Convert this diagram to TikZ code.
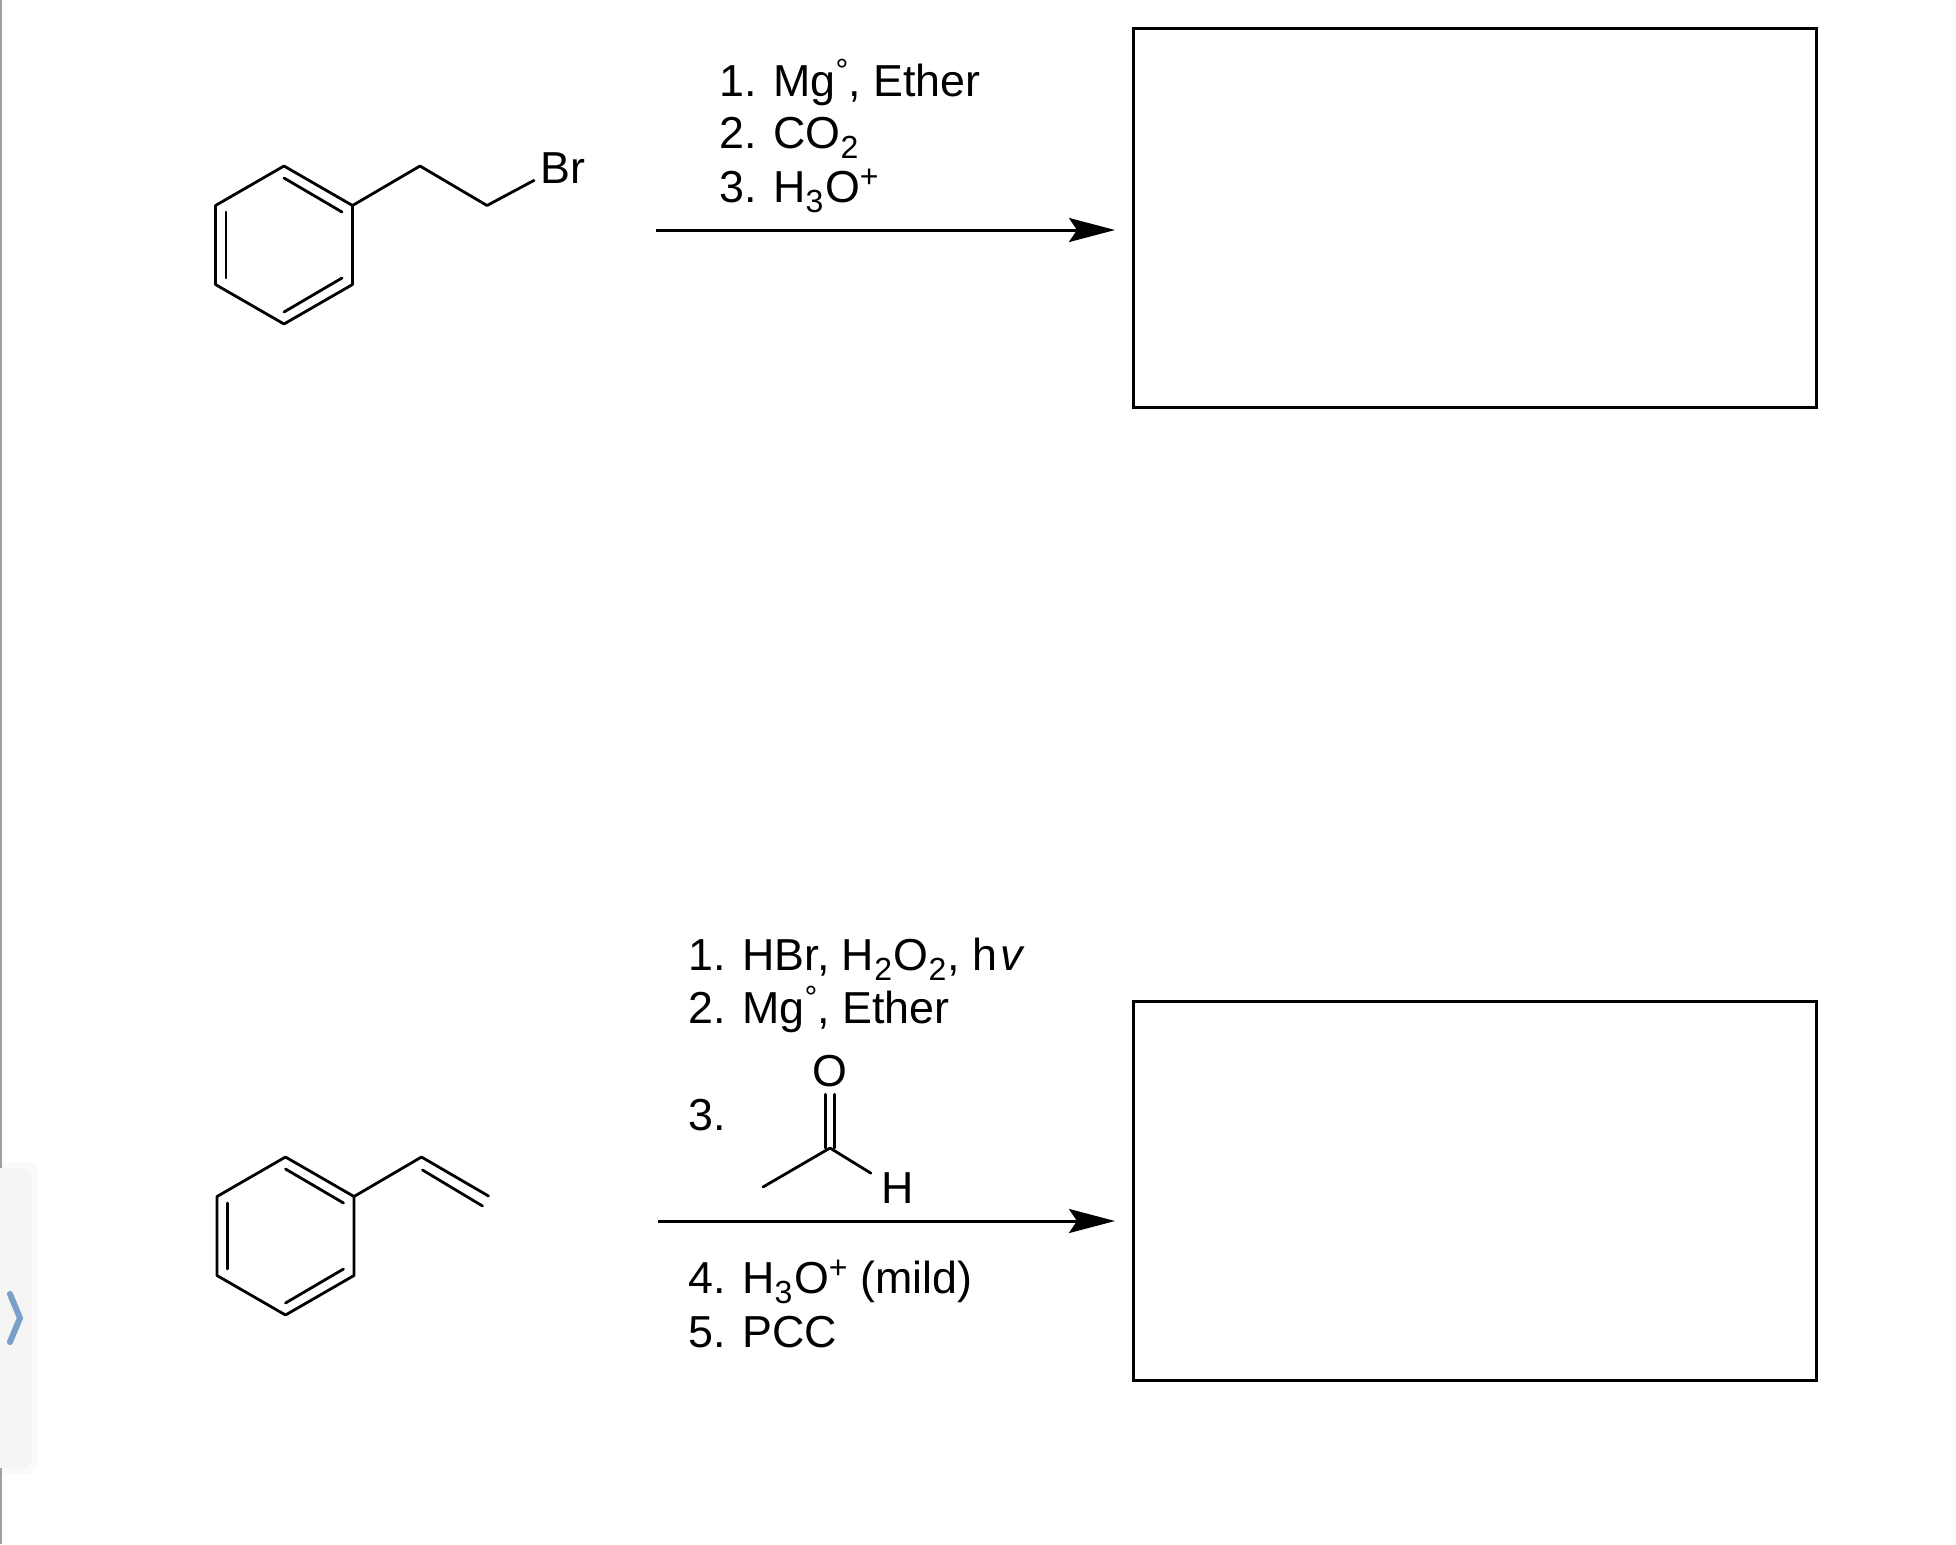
\documentclass[tikz,border=0pt]{standalone}
\usepackage{fontspec}
\setmainfont{Liberation Sans}
\usetikzlibrary{arrows.meta}

% small raised / lowered text in the reagent lines
\newcommand{\subs}[1]{\raisebox{-5pt}{\fontsize{16}{16}\selectfont #1}\hspace{0.8pt}}
\newcommand{\sups}[1]{\raisebox{7.5pt}{\fontsize{16}{16}\selectfont #1}}

\begin{document}
\begin{tikzpicture}[
    x=0.5pt,y=-0.5pt, % one unit = one pixel of the reference
    bond/.style={line width=1.4pt,line cap=round,line join=round},
    rxn/.style={line width=1.5pt,shorten >=8.5pt,-{Stealth[length=23pt,width=12pt,inset=4pt]}},
    ansbox/.style={draw,line width=1.6pt,minimum width=341.5pt,minimum height=189.5pt,anchor=north west,inner sep=0pt},
    lbl/.style={font=\fontsize{22.4}{26}\selectfont,inner sep=0pt,anchor=base west},
    atom/.style={font=\fontsize{22.4}{26}\selectfont,inner sep=0pt}
]
\useasboundingbox (0,0) rectangle (1956,1544);

% ==============================
% POSITIONS
% ==============================
\def\xA{284}    % top ring centre x
\def\yA{245}    % top ring centre y
\def\xB{285.5}  % bottom ring centre x
\def\yB{1236}   % bottom ring centre y
\def\xTop{719}  % top reagents x
\def\xBot{688}  % bottom reagents x

% ==============================
% SIDE PANEL
% ==============================
\fill[gray!4,rounded corners=6pt] (-30,1162) rectangle (38,1474);
\draw[line width=1pt,gray!75] (1,0) -- (1,1168) (1,1468) -- (1,1544);
\fill[color={rgb,255:red,245;green,245;blue,246},rounded corners=5pt] (-30,1168) rectangle (32,1468);
\coordinate (cha) at (10,1294);
\coordinate (chb) at (20,1318);
\coordinate (chc) at (10,1342);
\draw[line width=3pt,line cap=round,line join=round,color={rgb,255:red,122;green,160;blue,200}] (cha) -- (chb) -- (chc);

% ==============================
% TOP ROW
% ==============================
\coordinate (a1) at (\xA,\yA-79);
\coordinate (a2) at (\xA+68.5,\yA-39.5);
\coordinate (a3) at (\xA+68.5,\yA+39.5);
\coordinate (a4) at (\xA,\yA+79);
\coordinate (a5) at (\xA-68.5,\yA+39.5);
\coordinate (a6) at (\xA-68.5,\yA-39.5);
\draw[bond] (a1) -- (a2) -- (a3) -- (a4) -- (a5) -- (a6) -- cycle;
% inner lines of the double bonds
\draw[bond] (\xA,\yA-67) -- (\xA+58,\yA-33);
\draw[bond] (\xA+58,\yA+33) -- (\xA,\yA+67);
\draw[bond] (\xA-58,\yA+33) -- (\xA-58,\yA-33);

\node[atom,anchor=base west] (Br) at (540,183) {Br};
\coordinate (c1) at (\xA+136,\yA-79);
\coordinate (c2) at (\xA+203,\yA-39.5);
\draw[bond] (a2) -- (c1) -- (c2) -- ([xshift=-3pt,yshift=1.5pt]Br.south west);

\node[lbl] (t1) at (\xTop,96) {1. Mg\sups{°}, Ether};
\node[lbl] (t2) at (\xTop,148) {2. CO\subs{2}};
\node[lbl] (t3) at (\xTop,202) {3. H\subs{3}O\sups{+}};

\node[ansbox] (boxA) at (1132,27) {};
\coordinate (arrA) at (656,230);
\draw[rxn] (arrA) -- (arrA -| boxA.west);

% ==============================
% BOTTOM ROW
% ==============================
\coordinate (b1) at (\xB,\yB-79);
\coordinate (b2) at (\xB+68.5,\yB-39.5);
\coordinate (b3) at (\xB+68.5,\yB+39.5);
\coordinate (b4) at (\xB,\yB+79);
\coordinate (b5) at (\xB-68.5,\yB+39.5);
\coordinate (b6) at (\xB-68.5,\yB-39.5);
\draw[bond] (b1) -- (b2) -- (b3) -- (b4) -- (b5) -- (b6) -- cycle;
\draw[bond] (\xB,\yB-67) -- (\xB+58,\yB-33);
\draw[bond] (\xB+58,\yB+33) -- (\xB,\yB+67);
\draw[bond] (\xB-58,\yB+33) -- (\xB-58,\yB-33);

% vinyl group
\coordinate (v1) at (\xB+136,\yB-79);
\coordinate (v2) at (\xB+203,\yB-40);
\draw[bond] (b2) -- (v1) -- (v2);
\draw[bond] (\xB+137,\yB-66) -- (\xB+197,\yB-30);

\node[lbl] (u1) at (\xBot,970) {1. HBr, H\subs{2}O\subs{2}, h\hspace{1.5pt}\textit{v}};
\node[lbl] (u2) at (\xBot,1023) {2. Mg\sups{°}, Ether};
\node[lbl] (u3) at (\xBot,1130) {3.};
\node[lbl] (u4) at (\xBot,1293) {4. H\subs{3}O\sups{+} (mild)};
\node[lbl] (u5) at (\xBot,1347) {5. PCC};

% aldehyde drawn above the arrow
\node[atom] (O) at (830,1071) {O};
\node[atom] (H) at (897.5,1188) {H};
\coordinate (cho) at (830,1148);
\coordinate (me) at (763,1187);
\draw[bond] (me) -- (cho) -- ([xshift=-5pt,yshift=-0.5pt]H.north west);
\draw[bond] ([xshift=-2.2pt]cho) -- ([xshift=-2.2pt,yshift=-3.5pt]O.south);
\draw[bond] ([xshift=2.2pt]cho) -- ([xshift=2.2pt,yshift=-3.5pt]O.south);

\node[ansbox] (boxB) at (1132,1000) {};
\coordinate (arrB) at (658,1221);
\draw[rxn] (arrB) -- (arrB -| boxB.west);
\end{tikzpicture}
\end{document}
